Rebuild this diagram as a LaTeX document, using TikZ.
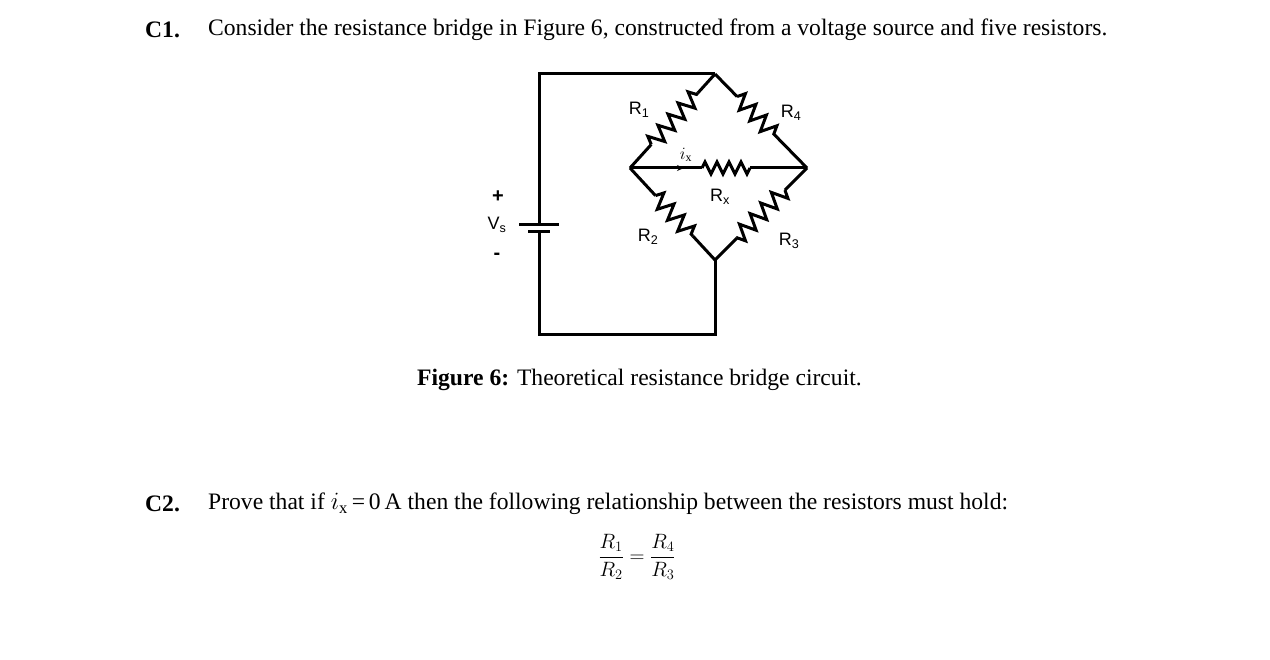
\documentclass[tikz,border=0pt]{standalone}
\usepackage{fontspec}
\setmainfont{Liberation Serif}
\newfontfamily\sansf{Liberation Sans}
\usepackage{amsmath}
\usetikzlibrary{decorations.pathmorphing,arrows.meta,calc}
\begin{document}
\begin{tikzpicture}[x=1pt,y=-1pt,
  wire/.style={line width=3pt,line join=miter},
  res/.style={wire,decorate,decoration={zigzag,segment length=15pt,amplitude=8pt}},
  lab/.style={font=\sansf\fontsize{18}{20}\selectfont,inner sep=0pt},
  txt/.style={font=\fontsize{23.6}{28}\selectfont,inner sep=0pt,anchor=west}]
\useasboundingbox (0,0) rectangle (1270,660);
\node[txt] (c1) at (145,30) {\textbf{C1.}};
\node[txt] (t1) at (208,30) {Consider the resistance bridge in Figure 6, constructed from a voltage source and five resistors.};
\coordinate (tl) at (539,74);
\coordinate (T) at (715,74);
\coordinate (L) at (630,168);
\coordinate (R) at (807,168);
\coordinate (B) at (715,260);
\coordinate (bl) at (539,335);
\coordinate (bb) at (715,335);
\coordinate (p1) at (539,225);
\coordinate (p2) at (539,232);
% outer loop
\draw[wire] (p1) -- (tl) -- (T);
\draw[wire] (p2) -- (bl) -- (bb) -- (B);
\draw[wire] (519,225) -- (559,225);
\draw[wire] (528,232) -- (550,232);
% R1
\draw[wire] (L) -- ($(L)!0.25!(T)$);
\draw[res] ($(L)!0.25!(T)$) -- ($(L)!0.8!(T)$);
\draw[wire] ($(L)!0.8!(T)$) -- (T);
% R4
\draw[wire] (T) -- ($(T)!0.24!(R)$);
\draw[res] ($(T)!0.24!(R)$) -- ($(T)!0.68!(R)$);
\draw[wire] ($(T)!0.68!(R)$) -- (R);
% R2
\draw[wire] (L) -- ($(L)!0.3!(B)$);
\draw[res] ($(L)!0.3!(B)$) -- ($(L)!0.74!(B)$);
\draw[wire] ($(L)!0.74!(B)$) -- (B);
% R3
\draw[wire] (R) -- ($(R)!0.24!(B)$);
\draw[res] ($(R)!0.24!(B)$) -- ($(R)!0.76!(B)$);
\draw[wire] ($(R)!0.76!(B)$) -- (B);
% Rx
\coordinate (x1) at (702,168);
\coordinate (x2) at (750,168);
\draw[wire] (L) -- (x1);
\draw[res,decoration={segment length=12pt,amplitude=6pt}] (x1) -- (x2);
\draw[wire] (x2) -- (R);
\draw[line width=1.2pt,-{Stealth[length=7pt,width=6pt]}] (660,168) -- (684,168);
% labels
\node[lab] (l1) at (639,110) {R\textsubscript{1}};
\node[lab] (l4) at (791,113) {R\textsubscript{4}};
\node[lab] (lx) at (720,197) {R\textsubscript{x}};
\node[lab] (l2) at (648,237) {R\textsubscript{2}};
\node[lab] (l3) at (789,241) {R\textsubscript{3}};
\node[inner sep=0pt,font=\fontsize{17}{18}\selectfont] (ix) at (686,155) {$i_{\text{x}}$};
\node[lab,font=\sansf\bfseries\fontsize{20}{20}\selectfont] (pl) at (498,197) {+};
\node[lab,font=\sansf\fontsize{18}{20}\selectfont] (vs) at (497,225) {V\textsubscript{s}};
\node[lab,font=\sansf\bfseries\fontsize{20}{20}\selectfont] (mi) at (497,256) {-};
\node[txt] (cap) at (417,380) {\textbf{Figure 6:} Theoretical resistance bridge circuit.};
\node[txt] (c2) at (145,504) {\textbf{C2.}};
\node[txt] (t2) at (208,504) {Prove that if $i_{\text{x}}$\,=\,0\,A then the following relationship between the resistors must hold:};
\node[inner sep=0pt,font=\fontsize{20}{24}\selectfont] (eq) at (637,557) {$\dfrac{R_1}{R_2}=\dfrac{R_4}{R_3}$};
\end{tikzpicture}
\end{document}
